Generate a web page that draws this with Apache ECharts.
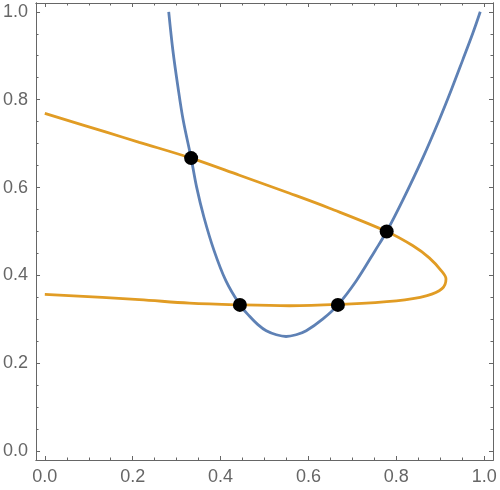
<!DOCTYPE html>
<html>
<head>
<meta charset="utf-8">
<script src="https://cdn.jsdelivr.net/npm/echarts@6/dist/echarts.min.js"></script>
<style>html,body{margin:0;padding:0;background:#fff}#c{width:500px;height:490px}</style>
</head>
<body>
<div id="c"></div>
<script>
// Blue curve
const blueX = [0.282, 0.2915, 0.303, 0.315, 0.333, 0.3455, 0.362, 0.385, 0.412, 0.444, 0.466, 0.485, 0.504, 0.527, 0.549, 0.572, 0.595, 0.633, 0.667, 0.709, 0.752, 0.778, 0.815, 0.860, 0.898, 0.925, 0.951, 0.974, 0.991];
const blueY = [1.000, 0.912, 0.829, 0.753, 0.667, 0.601, 0.533, 0.457, 0.388, 0.333, 0.307, 0.288, 0.274, 0.265, 0.261, 0.265, 0.274, 0.301, 0.333, 0.388, 0.457, 0.500, 0.572, 0.667, 0.755, 0.822, 0.890, 0.951, 1.000];
// Orange curve (upper branch to nose, then lower branch back)
const orangeX = [0.000, 0.140, 0.215, 0.333, 0.443, 0.557, 0.648, 0.778, 0.837, 0.875, 0.902, 0.913, 0.904, 0.870, 0.800, 0.667, 0.557, 0.444, 0.329, 0.215, 0.000];
const orangeY = [0.769, 0.726, 0.703, 0.667, 0.628, 0.587, 0.553, 0.500, 0.468, 0.440, 0.411, 0.392, 0.370, 0.354, 0.342, 0.334, 0.331, 0.333, 0.337, 0.345, 0.357];
// Intersection points
const dotX = [0.333, 0.444, 0.667, 0.778];
const dotY = [0.667, 0.333, 0.333, 0.500];
// Ticks
const majorTicks = [0, 0.2, 0.4, 0.6, 0.8, 1.0];
const minorTicks = [0.05, 0.1, 0.15, 0.25, 0.3, 0.35, 0.45, 0.5, 0.55, 0.65, 0.7, 0.75, 0.85, 0.9, 0.95];

const zip = (a, b) => a.map((v, i) => [v, b[i]]);
const frameColor = '#666666';
const AMIN = -0.02, AMAX = 1.02;

function ax(pos, labels, minor) {
  return {
    type: 'value', position: pos, min: AMIN, max: AMAX,
    axisLine: { show: true, onZero: false, lineStyle: { color: frameColor, width: 1 } },
    axisTick: { show: true, inside: true, length: minor ? 2.5 : 4, customValues: minor ? minorTicks : majorTicks, lineStyle: { color: frameColor, width: 1 } },
    axisLabel: labels ? { show: true, customValues: majorTicks, formatter: v => v.toFixed(1), color: '#666666', fontSize: 18, fontFamily: 'Liberation Sans, Arial, sans-serif', margin: 8 } : { show: false },
    splitLine: { show: false }
  };
}

const chart = echarts.init(document.getElementById('c'), null, { renderer: 'canvas' });
chart.setOption({
  animation: false,
  grid: { left: 36, right: 7, top: 3, bottom: 30, containLabel: false },
  xAxis: [ax('bottom', true, false), ax('top', false, false), ax('bottom', false, true), ax('top', false, true)],
  yAxis: [ax('left', true, false), ax('right', false, false), ax('left', false, true), ax('right', false, true)],
  series: [
    { type: 'line', xAxisIndex: 0, yAxisIndex: 0, data: zip(blueX, blueY), smooth: 0.35, showSymbol: false, lineStyle: { color: '#5E81B5', width: 2.8 }, z: 2 },
    { type: 'line', xAxisIndex: 0, yAxisIndex: 0, data: zip(orangeX, orangeY), smooth: 0.35, showSymbol: false, lineStyle: { color: '#E19C24', width: 2.8 }, z: 3 },
    { type: 'scatter', xAxisIndex: 0, yAxisIndex: 0, data: zip(dotX, dotY), symbolSize: 14, itemStyle: { color: '#000000', opacity: 1 }, z: 5 }
  ]
});
</script>
</body>
</html>
